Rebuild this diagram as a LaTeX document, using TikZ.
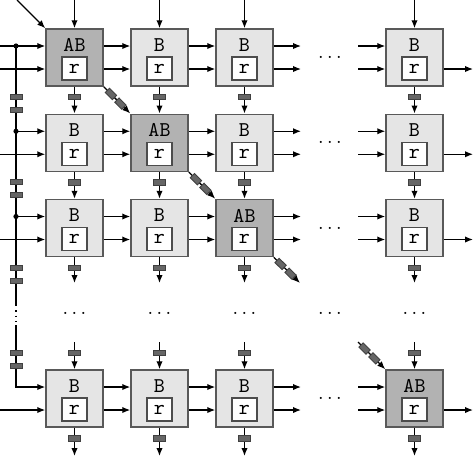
\documentclass[tikz,border=0pt]{standalone}
\usetikzlibrary{arrows.meta}

\newcommand{\cdts}{.\kern1.72pt.\kern1.72pt.}

\begin{document}
\begin{tikzpicture}[x=0.5pt,y=-0.5pt,>={Latex[length=4pt,width=3.2pt]},line width=0.65pt,
    cell/.style={draw=black!65,line width=0.75pt,minimum size=28.5pt,inner sep=0pt},
    rbox/.style={draw=black!70,fill=white,line width=0.65pt,minimum width=12.5pt,minimum height=11.5pt,inner sep=0pt,font=\fontsize{10.5pt}{12pt}\ttfamily},
    tag/.style={inner sep=0pt,font=\fontsize{10.5pt}{12pt}\ttfamily},
    reg/.style={draw=black!75,fill=black!60,line width=0.45pt,minimum width=6pt,minimum height=2.6pt,inner sep=0pt},
    dreg/.style={reg,sloped,minimum width=5pt,minimum height=3pt},
    dots/.style={inner sep=0pt},
    dot/.style={circle,fill=black,inner sep=0pt,minimum size=2.6pt}]

    \useasboundingbox (0,0) rectangle (474,456);

    % cells
    \foreach \i/\x in {1/74.5,2/159.5,3/244.5,5/414.5}{
        \foreach \j/\y in {1/57.5,2/142.75,3/228,5/398.5}{
            \ifnum\i=\j \def\kind{AB}\def\shade{30}\else \def\kind{B}\def\shade{10}\fi
            \node[cell,fill=black!\shade] (c\i\j) at (\x,\y) {};
            \node[tag] (t\i\j) at ([yshift=6.25pt]c\i\j.center) {\kind};
            \node[rbox] (r\i\j) at ([yshift=-5.5pt]c\i\j.center) {r};
        }
        % vertical connections
        \coordinate (top\i) at (\x,0);
        \coordinate (d\i) at (\x,283);
        \coordinate (u\i) at (\x,342);
        \coordinate (bot\i) at (\x,456);
        \draw[->] (top\i) -- (c\i1.north);
        \draw[->] (c\i1.south) -- node[reg,pos=0.39]{} (c\i2.north);
        \draw[->] (c\i2.south) -- node[reg,pos=0.39]{} (c\i3.north);
        \draw[->] (c\i3.south) -- node[reg,pos=0.41]{} (d\i);
        \draw[->] (u\i) -- node[reg,pos=0.39]{} (c\i5.north);
        \draw[->] (c\i5.south) -- node[reg,pos=0.38]{} (bot\i);
        \node[dots] at (\x,313) {\cdts};
    }
    \node[dots] at (330,313) {\cdts};

    % horizontal connections
    \foreach \j/\y in {1/57.5,2/142.75,3/228,5/398.5}{
        \coordinate (in\j) at (0,\y+11.5);
        \coordinate (oa\j) at (301,\y-11.5);
        \coordinate (ob\j) at (301,\y+11.5);
        \coordinate (ia\j) at (358,\y-11.5);
        \coordinate (ib\j) at (358,\y+11.5);
        \coordinate (out\j) at (473,\y+11.5);
        \draw[->] (in\j) -- ([yshift=-5.75pt]c1\j.west);
        \foreach \a/\b in {1/2,2/3}{
            \draw[->] ([yshift=5.75pt]c\a\j.east) -- ([yshift=5.75pt]c\b\j.west);
            \draw[->] ([yshift=-5.75pt]c\a\j.east) -- ([yshift=-5.75pt]c\b\j.west);
        }
        \draw[->] ([yshift=5.75pt]c3\j.east) -- (oa\j);
        \draw[->] ([yshift=-5.75pt]c3\j.east) -- (ob\j);
        \draw[->] (ia\j) -- ([yshift=5.75pt]c5\j.west);
        \draw[->] (ib\j) -- ([yshift=-5.75pt]c5\j.west);
        \draw[->] ([yshift=-5.75pt]c5\j.east) -- (out\j);
        \node[dots] at (330,\y) {\cdts};
    }

    % broadcast line on the left
    \coordinate (feed) at (0,46);
    \coordinate (j1) at (16,46);
    \coordinate (j2) at (16,131.25);
    \coordinate (j3) at (16,216.5);
    \coordinate (k1) at (16,305);
    \coordinate (k2) at (16,325);
    \draw[->] (feed) -- ([yshift=5.75pt]c11.west);
    \draw[->] (j2) -- ([yshift=5.75pt]c12.west);
    \draw[->] (j3) -- ([yshift=5.75pt]c13.west);
    \draw (j1) -- (j2) -- (j3) -- (k1);
    \draw[dotted] (k1) -- (k2);
    \draw[->] (k2) |- ([yshift=5.75pt]c15.west);
    \foreach \y in {97,110,182,195,268,281,353,366}
        \node[reg] at (16,\y) {};
    \foreach \n in {j1,j2,j3}
        \node[dot] at (\n) {};

    % diagonal connections
    \coordinate (dtop) at (17,0);
    \coordinate (dend) at (300,283);
    \coordinate (dstart) at (358,342);
    \draw[->] (dtop) -- (c11.north west);
    \draw[->] (c11.south east) -- node[dreg,pos=0.27]{} node[dreg,pos=0.63]{} (c22.north west);
    \draw[->] (c22.south east) -- node[dreg,pos=0.27]{} node[dreg,pos=0.63]{} (c33.north west);
    \draw[->] (c33.south east) -- node[dreg,pos=0.26]{} node[dreg,pos=0.64]{} (dend);
    \draw[->] (dstart) -- node[dreg,pos=0.24]{} node[dreg,pos=0.6]{} (c55.north west);
\end{tikzpicture}
\end{document}
